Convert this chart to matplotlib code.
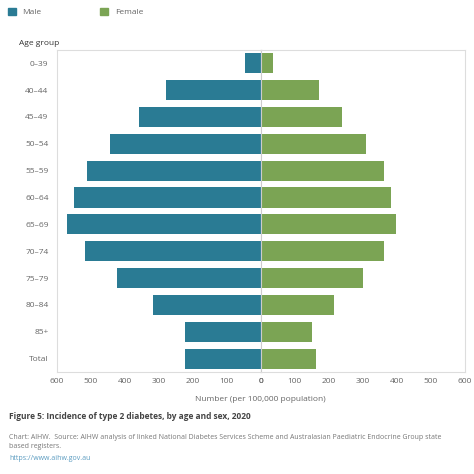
import matplotlib.pyplot as plt
from matplotlib.patches import Patch

ages = ["0–39", "40–44", "45–49", "50–54", "55–59", "60–64", "65–69",
        "70–74", "75–79", "80–84", "85+", "Total"]
male = [45, 280, 358, 445, 510, 550, 570, 518, 424, 318, 224, 224]
female = [36, 172, 238, 310, 362, 385, 397, 364, 300, 215, 152, 162]
ticks = [0, 100, 200, 300, 400, 500, 600]

c_m, c_f = "#2a7b94", "#7ba454"
grey = "#666666"
plt.rcParams["font.family"] = ["Open Sans", "DejaVu Sans"]

fig = plt.figure(figsize=(4.74, 4.74), dpi=100)
axl = fig.add_axes([0.12, 0.215, 0.43, 0.68])
axr = fig.add_axes([0.55, 0.215, 0.43, 0.68])
y = range(len(ages))
axl.barh(y, male, color=c_m, height=0.75)
axr.barh(y, female, color=c_f, height=0.75)
for ax in (axl, axr):
    ax.set_ylim(len(ages) - 0.5, -0.5)
    ax.set_xlim(0, 600)
    ax.set_xticks(ticks)
    ax.set_xticklabels([str(t) for t in ticks], fontsize=6, color=grey)
    ax.tick_params(length=0, pad=4)
    for s in ax.spines.values():
        s.set_color("#dddddd")
axl.invert_xaxis()
axl.spines["right"].set_color("#cccccc")
axr.spines["left"].set_color("#cccccc")
axl.set_yticks(list(y))
axl.set_yticklabels(ages, fontsize=6, color=grey)
axr.set_yticks([])
axl.tick_params(axis="y", pad=6)

fig.text(0.04, 0.905, "Age group", fontsize=6, color="#333333")
fig.text(0.55, 0.155, "Number (per 100,000 population)", fontsize=6,
         color=grey, ha="center")
fig.legend(handles=[Patch(color=c_m, label="Male"), Patch(color=c_f, label="Female")],
           loc="upper left", bbox_to_anchor=(0.0, 1.0), ncol=2, frameon=False,
           fontsize=6, labelcolor=grey, handlelength=1.0, handleheight=1.0,
           columnspacing=7)
fig.text(0.02, 0.115, "Figure 5: Incidence of type 2 diabetes, by age and sex, 2020",
         fontsize=6, fontweight="bold", color="#444444")
fig.text(0.02, 0.055, "Chart: AIHW.  Source: AIHW analysis of linked National Diabetes Services "
         "Scheme and Australasian Paediatric Endocrine Group state\nbased registers.",
         fontsize=5, color="#777777", linespacing=1.4)
fig.text(0.02, 0.03, "https://www.aihw.gov.au", fontsize=5, color="#5a9bc0")
fig.savefig("out.png", dpi=100)
